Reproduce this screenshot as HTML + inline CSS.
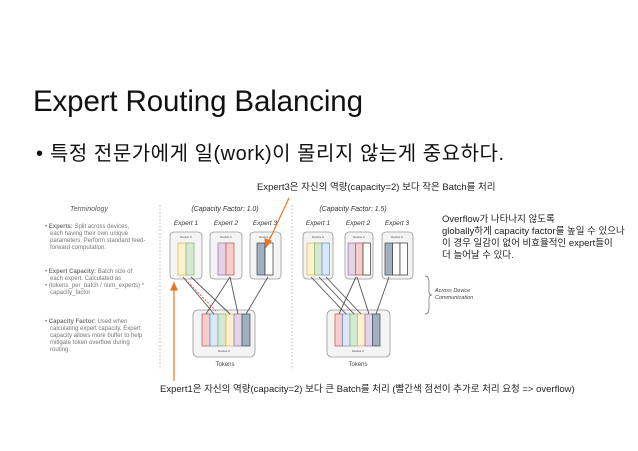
<!DOCTYPE html>
<html><head><meta charset="utf-8"><style>
html,body{margin:0;padding:0;background:#fff;}
svg{display:block;}
.k{font-family:"Liberation Sans","Noto Sans CJK KR",sans-serif;}
</style></head><body>
<svg width="638" height="451" viewBox="0 0 638 451" xmlns="http://www.w3.org/2000/svg" class="k">
<text x="33" y="111" font-size="29.5" fill="#111" textLength="330">Expert Routing Balancing</text>
<text x="36" y="160" font-size="20" fill="#111">•</text>
<text x="50" y="160" font-size="20" fill="#111" textLength="454">특정 전문가에게 일(work)이 몰리지 않는게 중요하다.</text>

<g fill="#777" font-size="6">
<text x="70" y="211" font-size="7" font-style="italic" fill="#555">Terminology</text>
<text x="45" y="228">• <tspan font-weight="bold">Experts:</tspan> Split across devices,</text>
<text x="50" y="235">each having their own unique</text>
<text x="50" y="242">parameters. Perform standard feed-</text>
<text x="50" y="249">forward computation.</text>
<text x="45" y="273">• <tspan font-weight="bold">Expert Capacity:</tspan> Batch size of</text>
<text x="50" y="280">each expert. Calculated as</text>
<text x="45" y="287">• (tokens_per_batch / num_experts) *</text>
<text x="50" y="294">capacity_factor</text>
<text x="45" y="323">• <tspan font-weight="bold">Capacity Factor:</tspan> Used when</text>
<text x="50" y="330">calculating expert capacity. Expert</text>
<text x="50" y="337">capacity allows more buffer to help</text>
<text x="50" y="344">mitigate token overflow during</text>
<text x="50" y="351">routing.</text>
</g>

<line x1="160" y1="205" x2="160" y2="370" stroke="#bbb" stroke-dasharray="1.5,2"/>
<line x1="292" y1="205" x2="292" y2="370" stroke="#bbb" stroke-dasharray="1.5,2"/>

<g font-size="6.5" font-style="italic" fill="#333">
<text x="225" y="211" text-anchor="middle" font-size="7">(Capacity Factor: 1.0)</text>
<text x="186" y="225" text-anchor="middle">Expert 1</text>
<text x="226" y="225" text-anchor="middle">Expert 2</text>
<text x="265" y="225" text-anchor="middle">Expert 3</text>
<text x="353" y="211" text-anchor="middle" font-size="7">(Capacity Factor: 1.5)</text>
<text x="318" y="225" text-anchor="middle">Expert 1</text>
<text x="358" y="225" text-anchor="middle">Expert 2</text>
<text x="397" y="225" text-anchor="middle">Expert 3</text>
</g>

<g fill="#f4f4f4" stroke="#999" stroke-width="0.8">
<rect x="170" y="232" width="32" height="47" rx="4"/>
<rect x="210" y="232" width="32" height="47" rx="4"/>
<rect x="250" y="232" width="31" height="47" rx="4"/>
<rect x="193" y="310" width="62" height="47" rx="5"/>
<rect x="303" y="232" width="30" height="47" rx="4"/>
<rect x="345" y="232" width="28" height="47" rx="4"/>
<rect x="382" y="232" width="31" height="47" rx="4"/>
<rect x="327" y="310" width="63" height="47" rx="5"/>
</g>
<g stroke-width="0.7">
<rect x="178" y="243" width="8" height="32" fill="#fff2cc" stroke="#d6b656"/>
<rect x="186" y="243" width="8" height="32" fill="#d5e8d4" stroke="#82b366"/>
<rect x="218" y="243" width="8" height="32" fill="#e1d5e7" stroke="#9673a6"/>
<rect x="226" y="243" width="8" height="32" fill="#f8cecc" stroke="#b85450"/>
<rect x="257" y="243" width="8" height="32" fill="#9fb0be" stroke="#445"/>
<rect x="265" y="243" width="8" height="32" fill="#fff" stroke="#333"/>
<rect x="202" y="314" width="8" height="32" fill="#f8cecc" stroke="#b85450"/>
<rect x="210" y="314" width="8" height="32" fill="#dae8fc" stroke="#6c8ebf"/>
<rect x="218" y="314" width="8" height="32" fill="#d5e8d4" stroke="#82b366"/>
<rect x="226" y="314" width="8" height="32" fill="#fff2cc" stroke="#d6b656"/>
<rect x="234" y="314" width="8" height="32" fill="#e1d5e7" stroke="#9673a6"/>
<rect x="242" y="314" width="8" height="32" fill="#9fb0be" stroke="#445"/>
<rect x="307" y="243" width="7.5" height="32" fill="#fff2cc" stroke="#d6b656"/>
<rect x="314.5" y="243" width="7.5" height="32" fill="#d5e8d4" stroke="#82b366"/>
<rect x="322" y="243" width="7.5" height="32" fill="#dae8fc" stroke="#6c8ebf"/>
<rect x="348" y="243" width="7.5" height="32" fill="#e1d5e7" stroke="#9673a6"/>
<rect x="355.5" y="243" width="7.5" height="32" fill="#f8cecc" stroke="#b85450"/>
<rect x="363" y="243" width="7.5" height="32" fill="#fff" stroke="#333"/>
<rect x="385" y="243" width="7.5" height="32" fill="#9fb0be" stroke="#445"/>
<rect x="392.5" y="243" width="7.5" height="32" fill="#fff" stroke="#333"/>
<rect x="400" y="243" width="7.5" height="32" fill="#fff" stroke="#333"/>
<rect x="335" y="314" width="7.5" height="32" fill="#f8cecc" stroke="#b85450"/>
<rect x="342.5" y="314" width="7.5" height="32" fill="#dae8fc" stroke="#6c8ebf"/>
<rect x="350" y="314" width="7.5" height="32" fill="#d5e8d4" stroke="#82b366"/>
<rect x="357.5" y="314" width="7.5" height="32" fill="#fff2cc" stroke="#d6b656"/>
<rect x="365" y="314" width="7.5" height="32" fill="#e1d5e7" stroke="#9673a6"/>
<rect x="372.5" y="314" width="7.5" height="32" fill="#9fb0be" stroke="#445"/>
</g>
<g font-size="3" fill="#444" text-anchor="middle">
<text x="186" y="238">Device 0</text><text x="226" y="238">Device 1</text><text x="265" y="238">Device 2</text>
<text x="224" y="352">Device 0</text><text x="318" y="238">Device 0</text><text x="359" y="238">Device 1</text>
<text x="397" y="238">Device 2</text><text x="358" y="352">Device 0</text>
</g>
<text x="225" y="366" font-size="6" fill="#444" text-anchor="middle">Tokens</text>
<text x="358" y="366" font-size="6" fill="#444" text-anchor="middle">Tokens</text>

<g stroke="#555" stroke-width="0.9">
<line x1="206" y1="314" x2="230" y2="277"/><line x1="214" y1="314" x2="183" y2="277"/>
<line x1="230" y1="314" x2="191" y2="277"/><line x1="238" y1="314" x2="230" y2="277"/>
<line x1="246" y1="314" x2="268" y2="277"/>
<line x1="339" y1="314" x2="356" y2="277"/><line x1="346" y1="314" x2="311" y2="277"/>
<line x1="354" y1="314" x2="319" y2="277"/><line x1="361" y1="314" x2="326" y2="277"/>
<line x1="369" y1="314" x2="357" y2="277"/><line x1="376" y1="314" x2="389" y2="277"/>
</g>
<line x1="216" y1="311" x2="185" y2="279" stroke="#e55" stroke-width="1" stroke-dasharray="2,1.5"/>

<path d="M425 276 Q429 276 429 282 V292 Q429 295 432 295 Q429 295 429 298 V308 Q429 314 425 314" fill="none" stroke="#666" stroke-width="0.7"/>
<text x="435" y="292" font-size="5.5" font-style="italic" fill="#444">Across Device</text>
<text x="435" y="299" font-size="5.5" font-style="italic" fill="#444">Communication</text>

<g font-size="9.5" fill="#222">
<text x="442" y="222">Overflow가 나타나지 않도록</text>
<text x="442" y="234">globally하게 capacity factor를 높일 수 있으나</text>
<text x="442" y="246">이 경우 일감이 없어 비효율적인 expert들이</text>
<text x="442" y="258">더 늘어날 수 있다.</text>
<text x="257" y="190">Expert3은 자신의 역량(capacity=2) 보다 작은 Batch를 처리</text>
<text x="160" y="392">Expert1은 자신의 역량(capacity=2) 보다 큰 Batch를 처리 (빨간색 점선이 추가로 처리 요청 =&gt; overflow)</text>
</g>
<g stroke="#e87722" stroke-width="1.2" fill="#e87722">
<line x1="289" y1="198" x2="268" y2="243"/>
<path d="M266 247 L265 239 L271 241Z"/>
<line x1="174" y1="381" x2="174" y2="288"/>
<path d="M174 283 L171 290 L177 290Z"/>
</g>
</svg>
</body></html>
